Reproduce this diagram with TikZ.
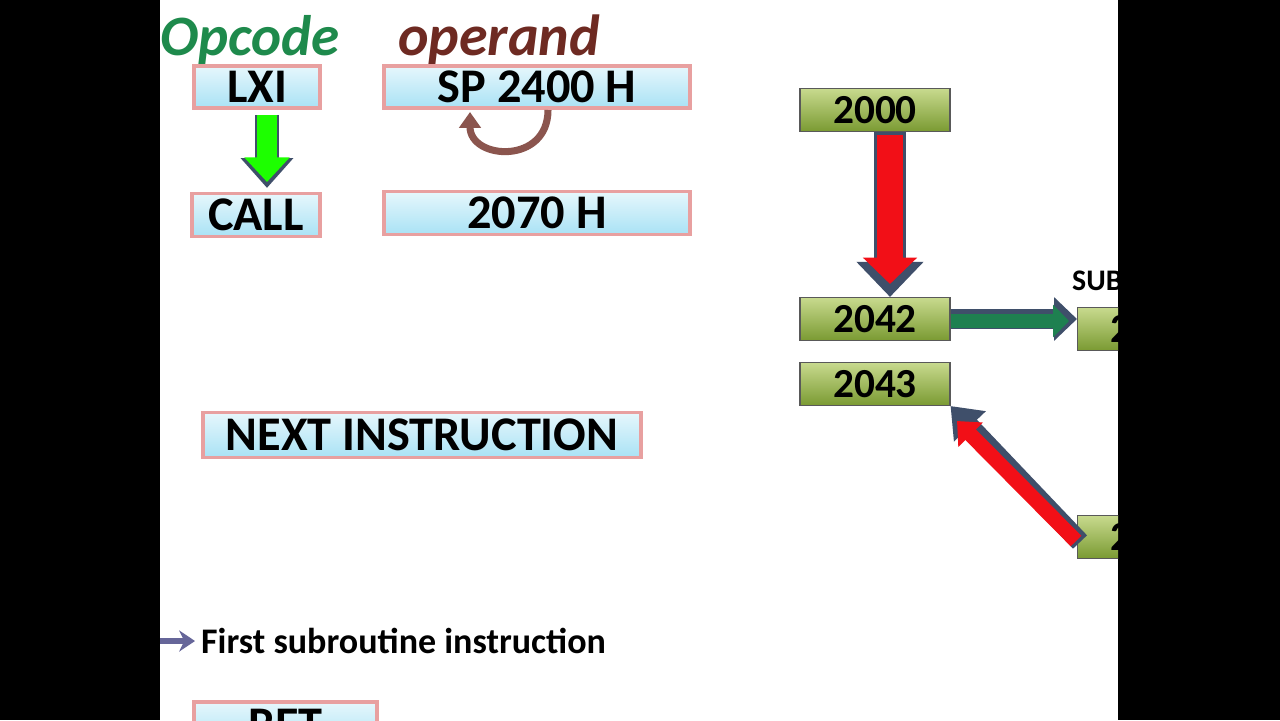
\documentclass[tikz,border=0pt]{standalone}
\usepackage{fontspec}
\setmainfont{Carlito}
\usetikzlibrary{arrows.meta,calc}
\definecolor{bluetop}{HTML}{E6F7FC}
\definecolor{bluebot}{HTML}{A9E2F5}
\definecolor{glow}{HTML}{E8A0A0}
\definecolor{gtop}{HTML}{C8DA8E}
\definecolor{gbot}{HTML}{7A9A32}
\definecolor{edgeblue}{HTML}{3F4F6A}
\definecolor{opgreen}{HTML}{1E8A4C}
\definecolor{opbrown}{HTML}{6E2A22}
\definecolor{arrowred}{HTML}{F20F17}
\definecolor{arrowgreen}{HTML}{1E8050}
\begin{document}
\begin{tikzpicture}[x=0.02cm,y=-0.02cm,
  bluebox/.style={draw=glow,line width=2.2pt,top color=bluetop,bottom color=bluebot,
    inner sep=0pt,font=\bfseries\fontsize{27.5}{27.5}\selectfont},
  greenbox/.style={draw=gray!70!black,line width=0.6pt,top color=gtop,bottom color=gbot,
    inner sep=0pt,minimum width=150*0.02cm,minimum height=43*0.02cm,font=\bfseries\fontsize{23.5}{23.5}\selectfont},
  ]
\useasboundingbox (0,0) rectangle (1280,720);
\fill[black] (0,0) rectangle (1280,720);
\fill[white] (160,0) rectangle (1118,720);
\begin{scope}
\clip (160,0) rectangle (1118,720);
% labels
\node[text=opgreen,font=\bfseries\itshape\fontsize{32.5}{32.5}\selectfont,anchor=west] (opc) at (154,40) {Opcode};
\node[text=opbrown,font=\bfseries\itshape\fontsize{33}{33}\selectfont,anchor=west] (opr) at (392,40) {operand};
% blue boxes
\node[bluebox,minimum width=126*0.02cm,minimum height=42*0.02cm] (lxi) at (257,87) {LXI};
\node[bluebox,minimum width=128*0.02cm,minimum height=43*0.02cm] (call) at (256,215) {CALL};
\node[bluebox,minimum width=306*0.02cm,minimum height=42*0.02cm] (sp) at (537,87) {SP 2400 H};
\node[bluebox,minimum width=306*0.02cm,minimum height=43*0.02cm] (adr) at (537,213) {2070 H};
\node[bluebox,minimum width=438*0.02cm,minimum height=45*0.02cm] (next) at (422,435) {NEXT INSTRUCTION};
\node[bluebox,minimum width=183*0.02cm,minimum height=45*0.02cm,anchor=north west] (ret) at (192,700) {RET};
% first subroutine
\coordinate (fs0) at (160,641);
\node[font=\bfseries\fontsize{20.5}{20.5}\selectfont,anchor=west] (first) at (195,641) {First subroutine instruction};
\draw[gray!80!blue,line width=3pt,-{Stealth[length=9pt,width=12pt]}] (fs0) -- (first.west);
% green small arrow
\draw[edgeblue,line width=13.5pt,-{Triangle[length=17pt,width=29pt]}] (lxi.south -| 267,0) ++(0,5) -- ++(0,73) coordinate (gtip);
\draw[green!85!lime,line width=11.5pt,-{Triangle[length=14pt,width=25pt]}] (267,115) -- (267,182);
% curved brown arrow
\coordinate (c1) at (548,110);
\coordinate (c2) at (470,112);
\draw[opbrown!80,line width=4pt,-{Triangle[length=9pt,width=12pt]}] (c1) .. controls (548,165) and (470,160) .. (c2);
% green boxes
\node[greenbox] (b2000) at (875,110) {2000};
\node[greenbox] (b2042) at (875,319) {2042};
\node[greenbox] (b2043) at (875,384) {2043};
\node[greenbox,anchor=west] (r1) at (1077,329) {2070};
\node[greenbox,anchor=west] (r2) at (1077,537) {2075};
\node[font=\bfseries\fontsize{17}{17}\selectfont,anchor=west] (sub) at (1066,281) {SUBROUTINE};
% red down arrow
\draw[edgeblue,line width=18pt,-{Triangle[length=20pt,width=37pt]}] (b2000.south -| 890,0) -- (b2042.north -| 890,0);
\draw[arrowred,line width=15pt,-{Triangle[length=15pt,width=30pt]}] (890,135) -- (890,284);
% green right arrow
\draw[edgeblue,line width=11pt,-{Triangle[length=13pt,width=24pt]}] (b2042.east) -- (r1.west |- b2042.east);
\draw[arrowgreen,line width=8.5pt,-{Triangle[length=9pt,width=18pt]}] (951,321) -- (1069,321);
% red diagonal
\draw[edgeblue,line width=11pt,-{Triangle[length=16pt,width=24pt]}] (r2.west) ++(3,5) -- (b2043.south east);
\draw[arrowred,line width=8.5pt,-{Triangle[length=11pt,width=19pt]}] (1076,541) -- (957,421);
\end{scope}
\end{tikzpicture}
\end{document}
